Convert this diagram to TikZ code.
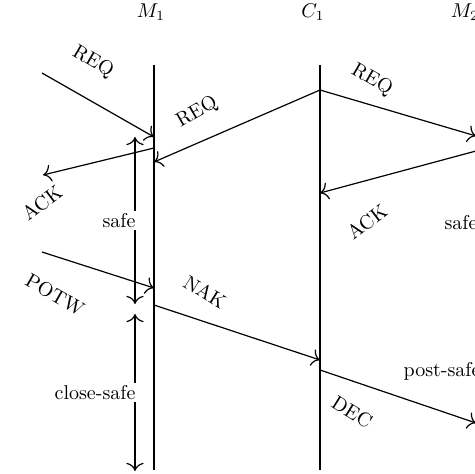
\documentclass[tikz,border=0pt]{standalone}
\usetikzlibrary{arrows.meta}
\begin{document}
\begin{tikzpicture}[x=0.5pt,y=-0.5pt,line width=0.6pt,>={To[scale=1.4]}]
	\tikzstyle{lbl}=[inner sep=1pt]
	\tikzstyle{gap}=[fill=white,inner sep=1pt,anchor=east,xshift=1.5pt]
	\useasboundingbox (0,0) rectangle (474,474);
	\begin{scope}
	\node (M1) at (151,12) {$M_1$};
	\node (C1) at (313,12) {$C_1$};
	\node (M2) at (465,12) {$M_2$};
	
	\coordinate (m1-top) at (154,65);
	\coordinate (m1-bot) at (154,470);
	\coordinate (c1-top) at (320,65);
	\coordinate (c1-bot) at (320,470);
	\coordinate (m2-top) at (477,65);
	\coordinate (m2-bot) at (477,470);
	
	\coordinate (req-in)  at (42,73);
	\coordinate (m1-1)    at (154,137);
	\coordinate (m1-2)    at (154,148);
	\coordinate (ack-out) at (43,175);
	\coordinate (m1-3)    at (154,162);
	\coordinate (c1-1)    at (320,90);
	\coordinate (m2-1)    at (476,136);
	\coordinate (m2-2)    at (476,151);
	\coordinate (c1-2)    at (320,193);
	\coordinate (potw-in) at (42,252);
	\coordinate (m1-4)    at (154,288);
	\coordinate (m1-5)    at (154,305);
	\coordinate (c1-3)    at (320,360);
	\coordinate (c1-4)    at (320,370);
	\coordinate (m2-3)    at (476,423);
	
	\coordinate (safe-t)  at (135,137);
	\coordinate (safe-b)  at (135,304);
	\coordinate (close-t) at (135,314);
	\coordinate (close-b) at (135,471);
	
	\node[lbl,rotate=-30] (l-req1) at (93,62)   {REQ};
	\node[lbl,rotate=37]  (l-ack1) at (42,203)  {ACK};
	\node[lbl,rotate=30]  (l-req2) at (197,112) {REQ};
	\node[lbl,rotate=-30] (l-req3) at (372,80)  {REQ};
	\node[lbl,rotate=37]  (l-ack2) at (367,222) {ACK};
	\node[lbl,rotate=-30] (l-potw) at (55,295)  {POTW};
	\node[lbl,rotate=-32] (l-nak)  at (205,292) {NAK};
	\node[lbl,rotate=-32] (l-dec)  at (352,412) {DEC};
	\node[lbl,anchor=west] (l-safe2) at (442,223) {safe};
	\node[lbl,anchor=west] (l-post)  at (401,371) {post-safe};
	\end{scope}
	
	\path[-]
	(m1-top) edge (m1-bot)
	(c1-top) edge (c1-bot)
	(m2-top) edge (m2-bot)
	;
	
	\path[->]
	(req-in)  edge (m1-1)
	(m1-2)    edge (ack-out)
	(c1-1)    edge (m1-3)
	(c1-1)    edge (m2-1)
	(m2-2)    edge (c1-2)
	(potw-in) edge (m1-4)
	(m1-5)    edge (c1-3)
	(c1-4)    edge (m2-3)
	;
	
	\draw[<->] (safe-t) -- node[gap] (l-safe1) {safe} (safe-b);
	\draw[<->] (close-t) -- node[gap] (l-close) {close-safe} (close-b);
\end{tikzpicture}
\end{document}
